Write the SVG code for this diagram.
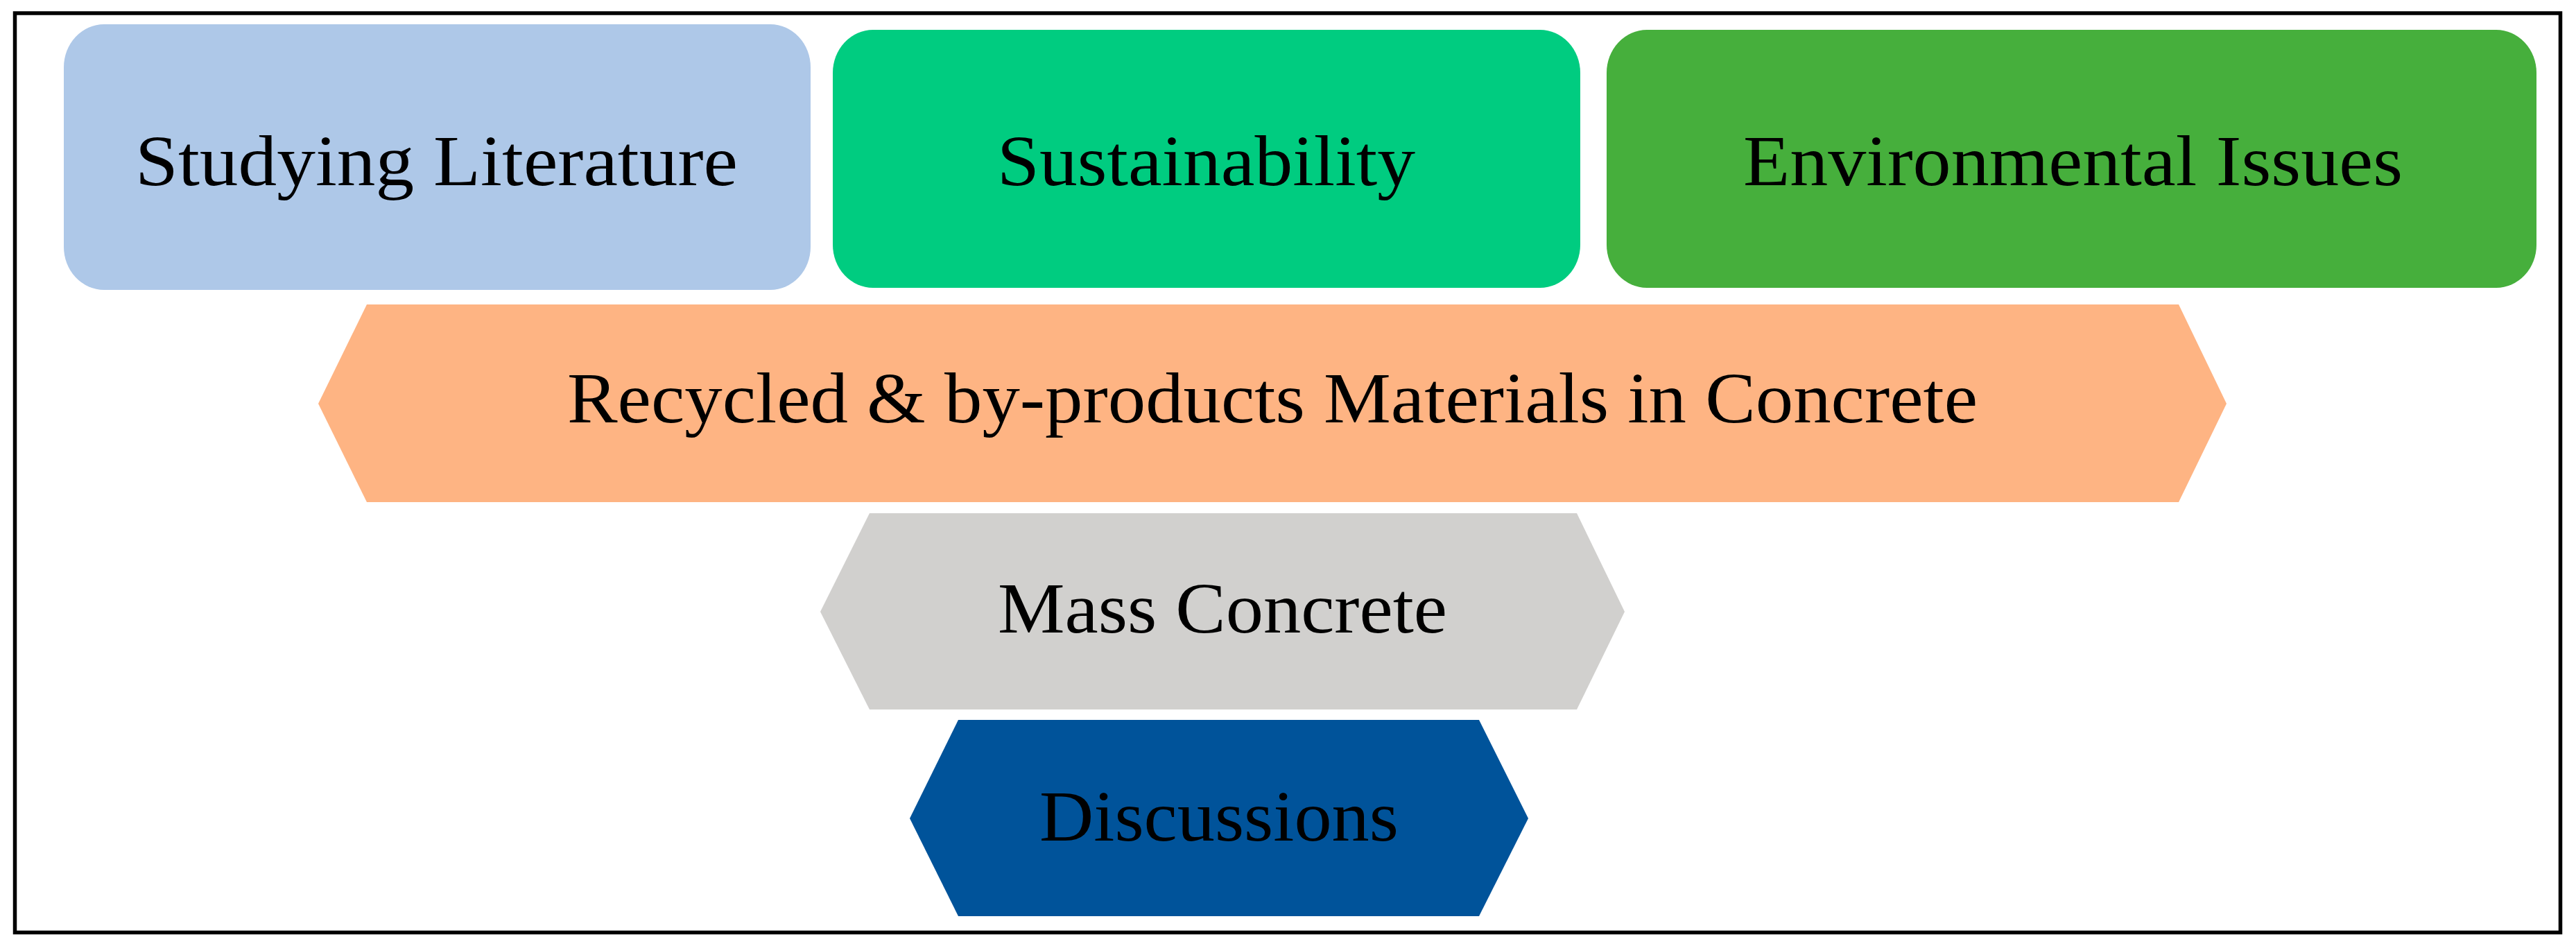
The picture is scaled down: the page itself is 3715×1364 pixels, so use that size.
<svg xmlns="http://www.w3.org/2000/svg" width="3715" height="1364" viewBox="0 0 3715 1364">
  <style>
    .lbl { font-family: "Liberation Serif", "DejaVu Serif", serif; font-size: 104px; fill: #000000; }
    .box { rx: 58px; ry: 62px; }
  </style>
  <rect x="0" y="0" width="3715" height="1364" fill="#ffffff"/>
  <rect id="frame" x="21.5" y="19" width="3671" height="1325.5" fill="none" stroke="#000000" stroke-width="5.5"/>
  <g id="connectors"></g>
  <g id="node-studying-literature">
    <rect x="92" y="35" width="1077" height="383" rx="58" ry="62" fill="#AEC8E8"/>
    <text class="lbl" x="195" y="267" textLength="869" lengthAdjust="spacingAndGlyphs">Studying Literature</text>
  </g>
  <g id="node-sustainability">
    <rect x="1201" y="43" width="1078" height="372" rx="58" ry="62" fill="#00CC80"/>
    <text class="lbl" x="1438" y="267" textLength="603" lengthAdjust="spacingAndGlyphs">Sustainability</text>
  </g>
  <g id="node-environmental-issues">
    <rect x="2317" y="43" width="1341" height="372" rx="58" ry="62" fill="#46AF3C"/>
    <text class="lbl" x="2514" y="267" textLength="951" lengthAdjust="spacingAndGlyphs">Environmental Issues</text>
  </g>
  <g id="node-recycled">
    <polygon points="459,582 529,439 3142,439 3211,582 3142,724 529,724" fill="#FEB483"/>
    <text class="lbl" x="818" y="609" textLength="2034" lengthAdjust="spacingAndGlyphs">Recycled &amp; by-products Materials in Concrete</text>
  </g>
  <g id="node-mass-concrete">
    <polygon points="1183,882 1254,740 2274,740 2343,882 2274,1023 1254,1023" fill="#D1D0CE"/>
    <text class="lbl" x="1439" y="912" textLength="648" lengthAdjust="spacingAndGlyphs">Mass Concrete</text>
  </g>
  <g id="node-discussions">
    <polygon points="1312,1180 1382,1038 2133,1038 2204,1180 2133,1321 1382,1321" fill="#00539A"/>
    <text class="lbl" x="1499" y="1212" textLength="518" lengthAdjust="spacingAndGlyphs">Discussions</text>
  </g>
</svg>
